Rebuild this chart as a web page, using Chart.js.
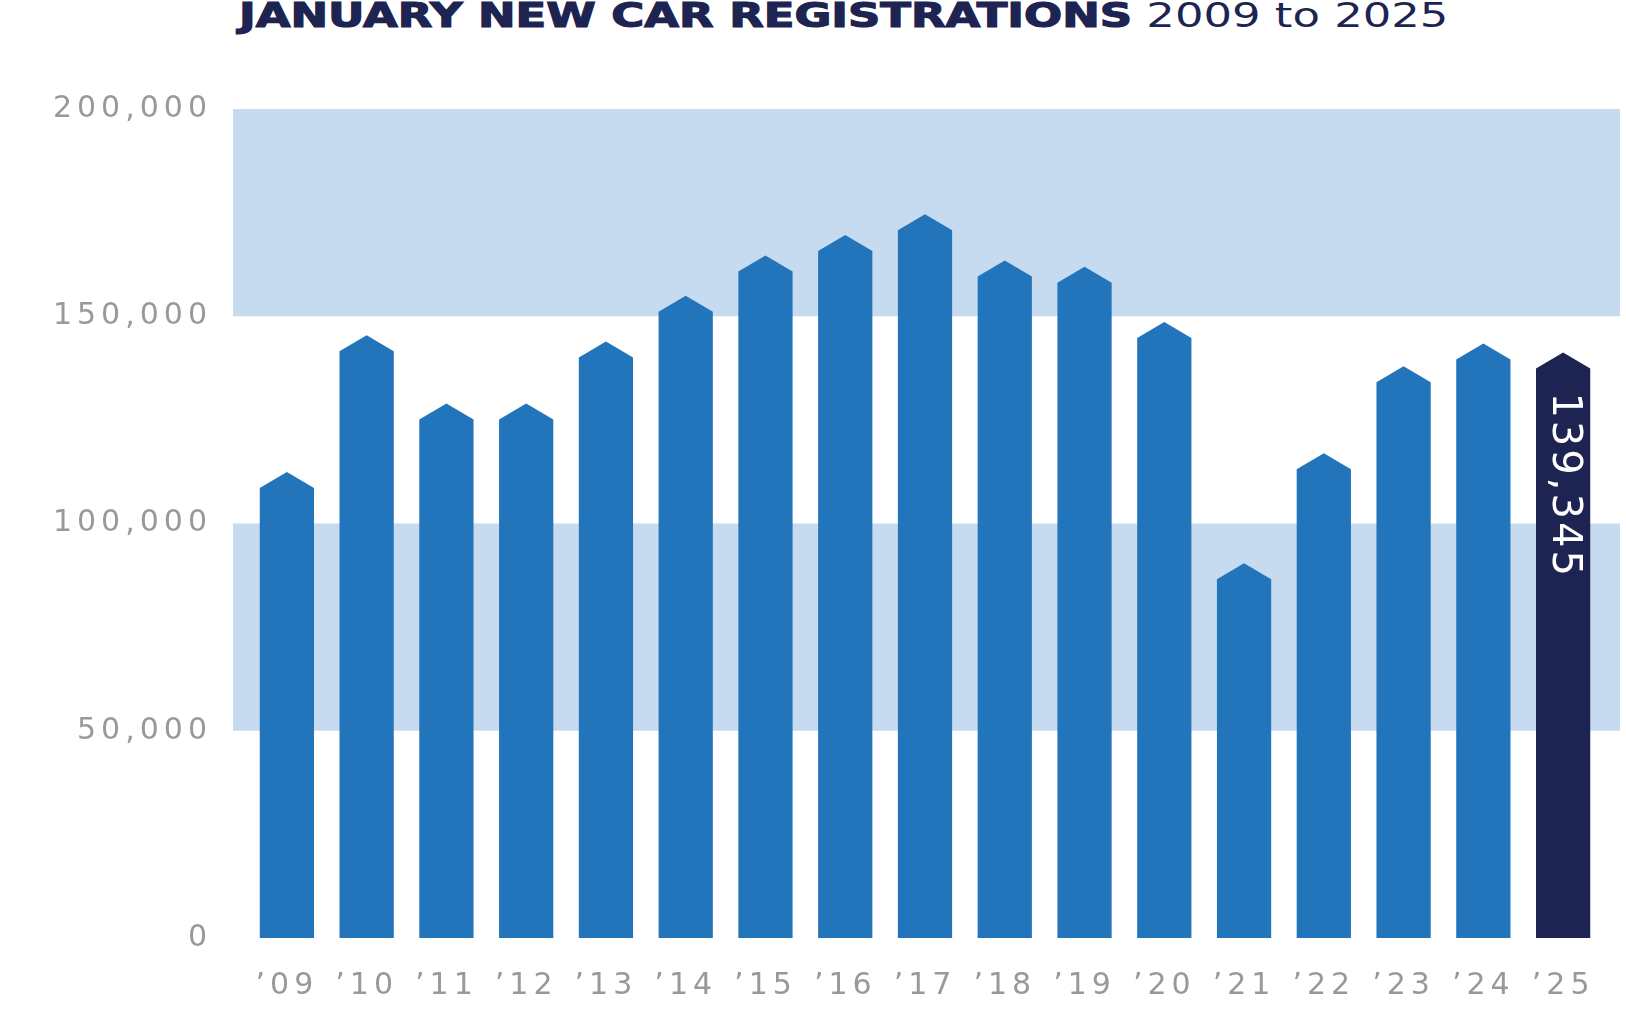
<!DOCTYPE html>
<html><head><meta charset="utf-8">
<script src="https://cdn.jsdelivr.net/npm/chart.js@4"></script>
<style>
body{margin:0;background:#fff;width:1626px;height:1018px;overflow:hidden;position:relative;font-family:"DejaVu Sans",sans-serif}
#title{position:absolute;left:239px;top:-4px;font-size:33px;color:#1e2452;white-space:nowrap;transform:scaleX(1.36);transform-origin:left top}
#title b{font-weight:900;-webkit-text-stroke:1.2px #1e2452}
#wrap{position:absolute;left:0;top:0;width:1626px;height:1018px}
</style></head><body>
<div id="title"><b>JANUARY NEW CAR REGISTRATIONS</b> 2009 to 2025</div>
<div id="wrap"><canvas id="myChart"></canvas></div>
<script>
const years = ['\u201909','\u201910','\u201911','\u201912','\u201913','\u201914','\u201915','\u201916','\u201917','\u201918','\u201919','\u201920','\u201921','\u201922','\u201923','\u201924','\u201925'];
const registrations = [110500,143500,127000,127000,142000,153000,162700,167700,172700,161500,160000,146700,88500,115000,136000,141500,139345];
const yTicks = [0,50000,100000,150000,200000];
const bands = [[50000,100000],[150000,200000]];

const shapes = {
    id: 'shapes',
    beforeDraw(chart) {
        chart.ctx.letterSpacing = '5px';
    },
    beforeDatasetsDraw(chart) {
        const c = chart.ctx, y = chart.scales.y;
        c.save();
        c.fillStyle = '#c6dbef';
        bands.forEach(b => c.fillRect(233, y.getPixelForValue(b[1]), 1620 - 233, y.getPixelForValue(b[0]) - y.getPixelForValue(b[1])));
        c.restore();
    },
    afterDatasetsDraw(chart) {
        const c = chart.ctx;
        chart.getDatasetMeta(0).data.forEach((bar, i) => {
            const w = bar.width, l = bar.x - w / 2, r = bar.x + w / 2;
            c.save();
            c.fillStyle = i === registrations.length - 1 ? '#1e2452' : '#2274bb';
            c.beginPath();
            c.moveTo(l, bar.base);
            c.lineTo(l, bar.y + 8);
            c.lineTo(bar.x, bar.y - 8);
            c.lineTo(r, bar.y + 8);
            c.lineTo(r, bar.base);
            c.closePath();
            c.fill();
            if (i === registrations.length - 1) {
                c.translate(bar.x, bar.y + 32);
                c.rotate(Math.PI / 2);
                c.fillStyle = '#fff';
                c.font = '40px "DejaVu Sans"';
                c.letterSpacing = '3px';
                c.textAlign = 'left';
                c.textBaseline = 'middle';
                c.fillText(registrations[i].toLocaleString('en-US'), 0, 0);
            }
            c.restore();
        });
    }
};

new Chart(document.getElementById('myChart'), {
    type: 'bar',
    data: {
        labels: years,
        datasets: [{ data: registrations, backgroundColor: 'rgba(0,0,0,0)', barPercentage: 0.68, categoryPercentage: 1 }]
    },
    options: {
        responsive: true, maintainAspectRatio: false, animation: false,
        layout: { padding: { left: 0, right: 23, top: 109, bottom: 14 } },
        plugins: { legend: { display: false }, tooltip: { enabled: false } },
        scales: {
            x: {
                grid: { display: false }, border: { display: false },
                ticks: { color: '#999', font: { size: 30, family: 'DejaVu Sans' }, padding: 22 },
                afterFit: s => { s.height = 66; }
            },
            y: {
                min: 0, max: 200000,
                grid: { display: false }, border: { display: false },
                afterBuildTicks: s => { s.ticks = yTicks.map(v => ({ value: v })); },
                ticks: { color: '#999', font: { size: 30, family: 'DejaVu Sans' }, padding: 27,
                    callback: v => v.toLocaleString('en-US') },
                afterFit: s => { s.width = 247; }
            }
        }
    },
    plugins: [shapes]
});
</script>
</body></html>
